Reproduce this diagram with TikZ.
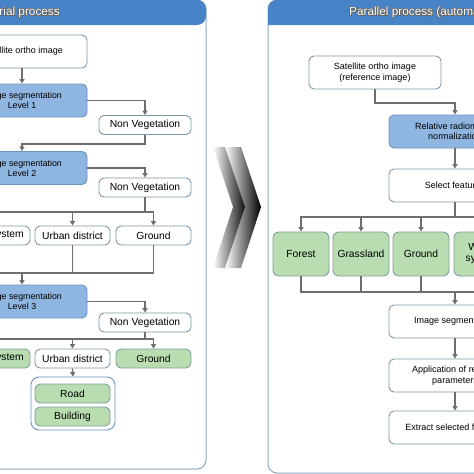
\documentclass[tikz,border=0pt]{standalone}
\usepackage{fontspec}
\setmainfont{Liberation Sans}
\usepackage{contour}
\contourlength{0.5pt}
\usetikzlibrary{arrows.meta}

\definecolor{headblue}{HTML}{4783C7}
\definecolor{panelline}{HTML}{8EA8C0}
\definecolor{boxline}{HTML}{7F97A6}
\definecolor{segfill}{HTML}{8FB5E1}
\definecolor{segline}{HTML}{6E93BE}
\definecolor{clsfill}{HTML}{B9DDB1}
\definecolor{clsline}{HTML}{7FA09F}
\definecolor{wire}{HTML}{6E6E6E}

\begin{document}
\begin{tikzpicture}[x=1pt,y=-1pt,
    box/.style={draw=boxline,line width=0.9pt,fill=white,rounded corners=5pt,
      align=center,inner sep=1pt,minimum height=19pt,
      font=\fontsize{10.3}{11}\selectfont},
    segbox/.style={box,fill=segfill,draw=segline,minimum height=33pt,
      font=\fontsize{8.8}{10}\selectfont},
    stepbox/.style={box,minimum width=132pt,minimum height=33pt,
      font=\fontsize{9}{10.5}\selectfont},
    clsbox/.style={box,fill=clsfill,draw=clsline},
    arr/.style={draw=wire,line width=1.2pt,-{Triangle[length=4.5pt,width=5pt]}},
    wireline/.style={draw=wire,line width=1.2pt}]

    \useasboundingbox (0,0) rectangle (474,474);
    \clip (0,0) rectangle (474,474);

    % panels
    \draw[panelline,line width=1pt,fill=white,rounded corners=9pt] (-90,0) rectangle (206,469);
    \draw[panelline,line width=1pt,fill=white,rounded corners=9pt] (268,0) rectangle (562,473);
    \fill[headblue,rounded corners=9pt] (-90,0) -- (206,0) -- (206,25) [sharp corners] -- (-90,25) -- cycle;
    \fill[headblue,rounded corners=9pt] (268,25) -- (268,0) -- (562,0) [sharp corners] -- (562,25) -- cycle;
    \node[anchor=east,font=\fontsize{11.8}{13}\selectfont,inner sep=0pt] (serial) at (60,13)
      {\contour{black!60}{\color{white}Serial process}};
    \node[anchor=west,font=\fontsize{11.8}{13}\selectfont,inner sep=0pt] (parallel) at (349,13)
      {\contour{black!60}{\color{white}Parallel process (automatic)}};

    % chevron between the panels
    \shade[left color=white,right color=black]
      (213,147) -- (227,147) -- (247,207) -- (227,268) -- (213,268) -- (233,207) -- cycle;
    \shade[left color=white,right color=black]
      (225,147) -- (241,147) -- (261,207) -- (241,268) -- (225,268) -- (245,207) -- cycle;

    % serial process, left panel
    \node[stepbox,minimum width=130pt] (sat1) at (22,51.5) {Satellite ortho image};
    \node[segbox,minimum width=130pt] (seg1) at (22,100.5) {Image segmentation\\Level 1};
    \node[box,minimum width=92pt] (nv1) at (145,125) {Non Vegetation};
    \node[segbox,minimum width=130pt] (seg2) at (22,168) {Image segmentation\\Level 2};
    \node[box,minimum width=92pt] (nv2) at (145,187.5) {Non Vegetation};
    \node[box,minimum width=75pt] (ws2) at (-7.5,235.5) {Water system};
    \node[box,minimum width=75pt] (ud2) at (72.5,235.5) {Urban district};
    \node[box,minimum width=75pt] (gr2) at (153.5,235.5) {Ground};
    \node[segbox,minimum width=130pt] (seg3) at (22,301.5) {Image segmentation\\Level 3};
    \node[box,minimum width=92pt] (nv3) at (145,322.5) {Non Vegetation};
    \node[clsbox,minimum width=75pt] (ws3) at (-7.5,358.5) {Water system};
    \node[box,minimum width=75pt] (ud3) at (72.5,358.5) {Urban district};
    \node[clsbox,minimum width=75pt] (gr3) at (153.5,358.5) {Ground};
    \node[box,draw=segline,rounded corners=8pt,minimum width=84pt,minimum height=53pt] (grp) at (73,403.5) {};
    \node[clsbox,minimum width=75pt] (road) at (72.5,393.5) {Road};
    \node[clsbox,minimum width=75pt] (bld) at (72.5,416.5) {Building};

    \coordinate (j1) at (22,144);
    \coordinate (j2) at (145,212);
    \coordinate (j3) at (22,273);
    \coordinate (j4) at (145,339);

    \draw[arr] (sat1) -- (seg1);
    \draw[arr] (seg1.east) -| (nv1.north);
    \draw[arr] (nv1.south) |- (j1) -- (seg2.north);
    \draw[arr] (seg2.east) -| (nv2.north);
    \draw[wireline] (nv2.south) -- (j2);
    \draw[arr] (j2) -| (ws2.north);
    \draw[arr] (j2) -| (ud2.north);
    \draw[arr] (j2) -| (gr2.north);
    \draw[wireline] (ws2.south) |- (j3);
    \draw[wireline] (ud2.south) |- (j3);
    \draw[wireline] (gr2.south) |- (j3);
    \draw[arr] (j3) -- (seg3.north);
    \draw[arr] (seg3.east) -| (nv3.north);
    \draw[wireline] (nv3.south) -- (j4);
    \draw[arr] (j4) -| (ws3.north);
    \draw[arr] (j4) -| (ud3.north);
    \draw[arr] (j4) -| (gr3.north);
    \draw[arr] (ud3.south) -- (grp.north);

    % parallel process, right panel
    \node[stepbox] (sat2) at (375,72.5) {Satellite ortho image\\(reference image)};
    \node[stepbox,fill=segfill,draw=segline] (rrn) at (455,131.5) {Relative radiometric\\normalization};
    \node[stepbox] (sel) at (455,185.5) {Select features};
    \node[clsbox,rounded corners=6pt,minimum width=56pt,minimum height=44pt] (forest) at (301,254) {Forest};
    \node[clsbox,rounded corners=6pt,minimum width=56pt,minimum height=44pt] (grass) at (361,254) {Grassland};
    \node[clsbox,rounded corners=6pt,minimum width=56pt,minimum height=44pt] (ground) at (421,254) {Ground};
    \node[clsbox,rounded corners=6pt,minimum width=56pt,minimum height=44pt] (water) at (482,254) {Water\\system};
    \node[stepbox] (iseg) at (455,321.5) {Image segmentation};
    \node[stepbox] (app) at (455,375.5) {Application of relative\\parameters};
    \node[stepbox] (ext) at (455,427.5) {Extract selected features};

    \coordinate (k1) at (455,103);
    \coordinate (k2) at (455,217);
    \coordinate (k3) at (455,292);

    \draw[arr] (sat2.south) |- (k1) -- (rrn.north);
    \draw[arr] (rrn) -- (sel);
    \draw[wireline] (sel.south) -- (k2);
    \draw[arr] (k2) -| (forest.north);
    \draw[arr] (k2) -| (grass.north);
    \draw[arr] (k2) -| (ground.north);
    \draw[arr] (k2) -| (water.north);
    \draw[wireline] (forest.south) |- (k3);
    \draw[wireline] (grass.south) |- (k3);
    \draw[wireline] (ground.south) |- (k3);
    \draw[wireline] (water.south) |- (k3);
    \draw[arr] (k3) -- (iseg.north);
    \draw[arr] (iseg) -- (app);
    \draw[arr] (app) -- (ext);
\end{tikzpicture}
\end{document}
